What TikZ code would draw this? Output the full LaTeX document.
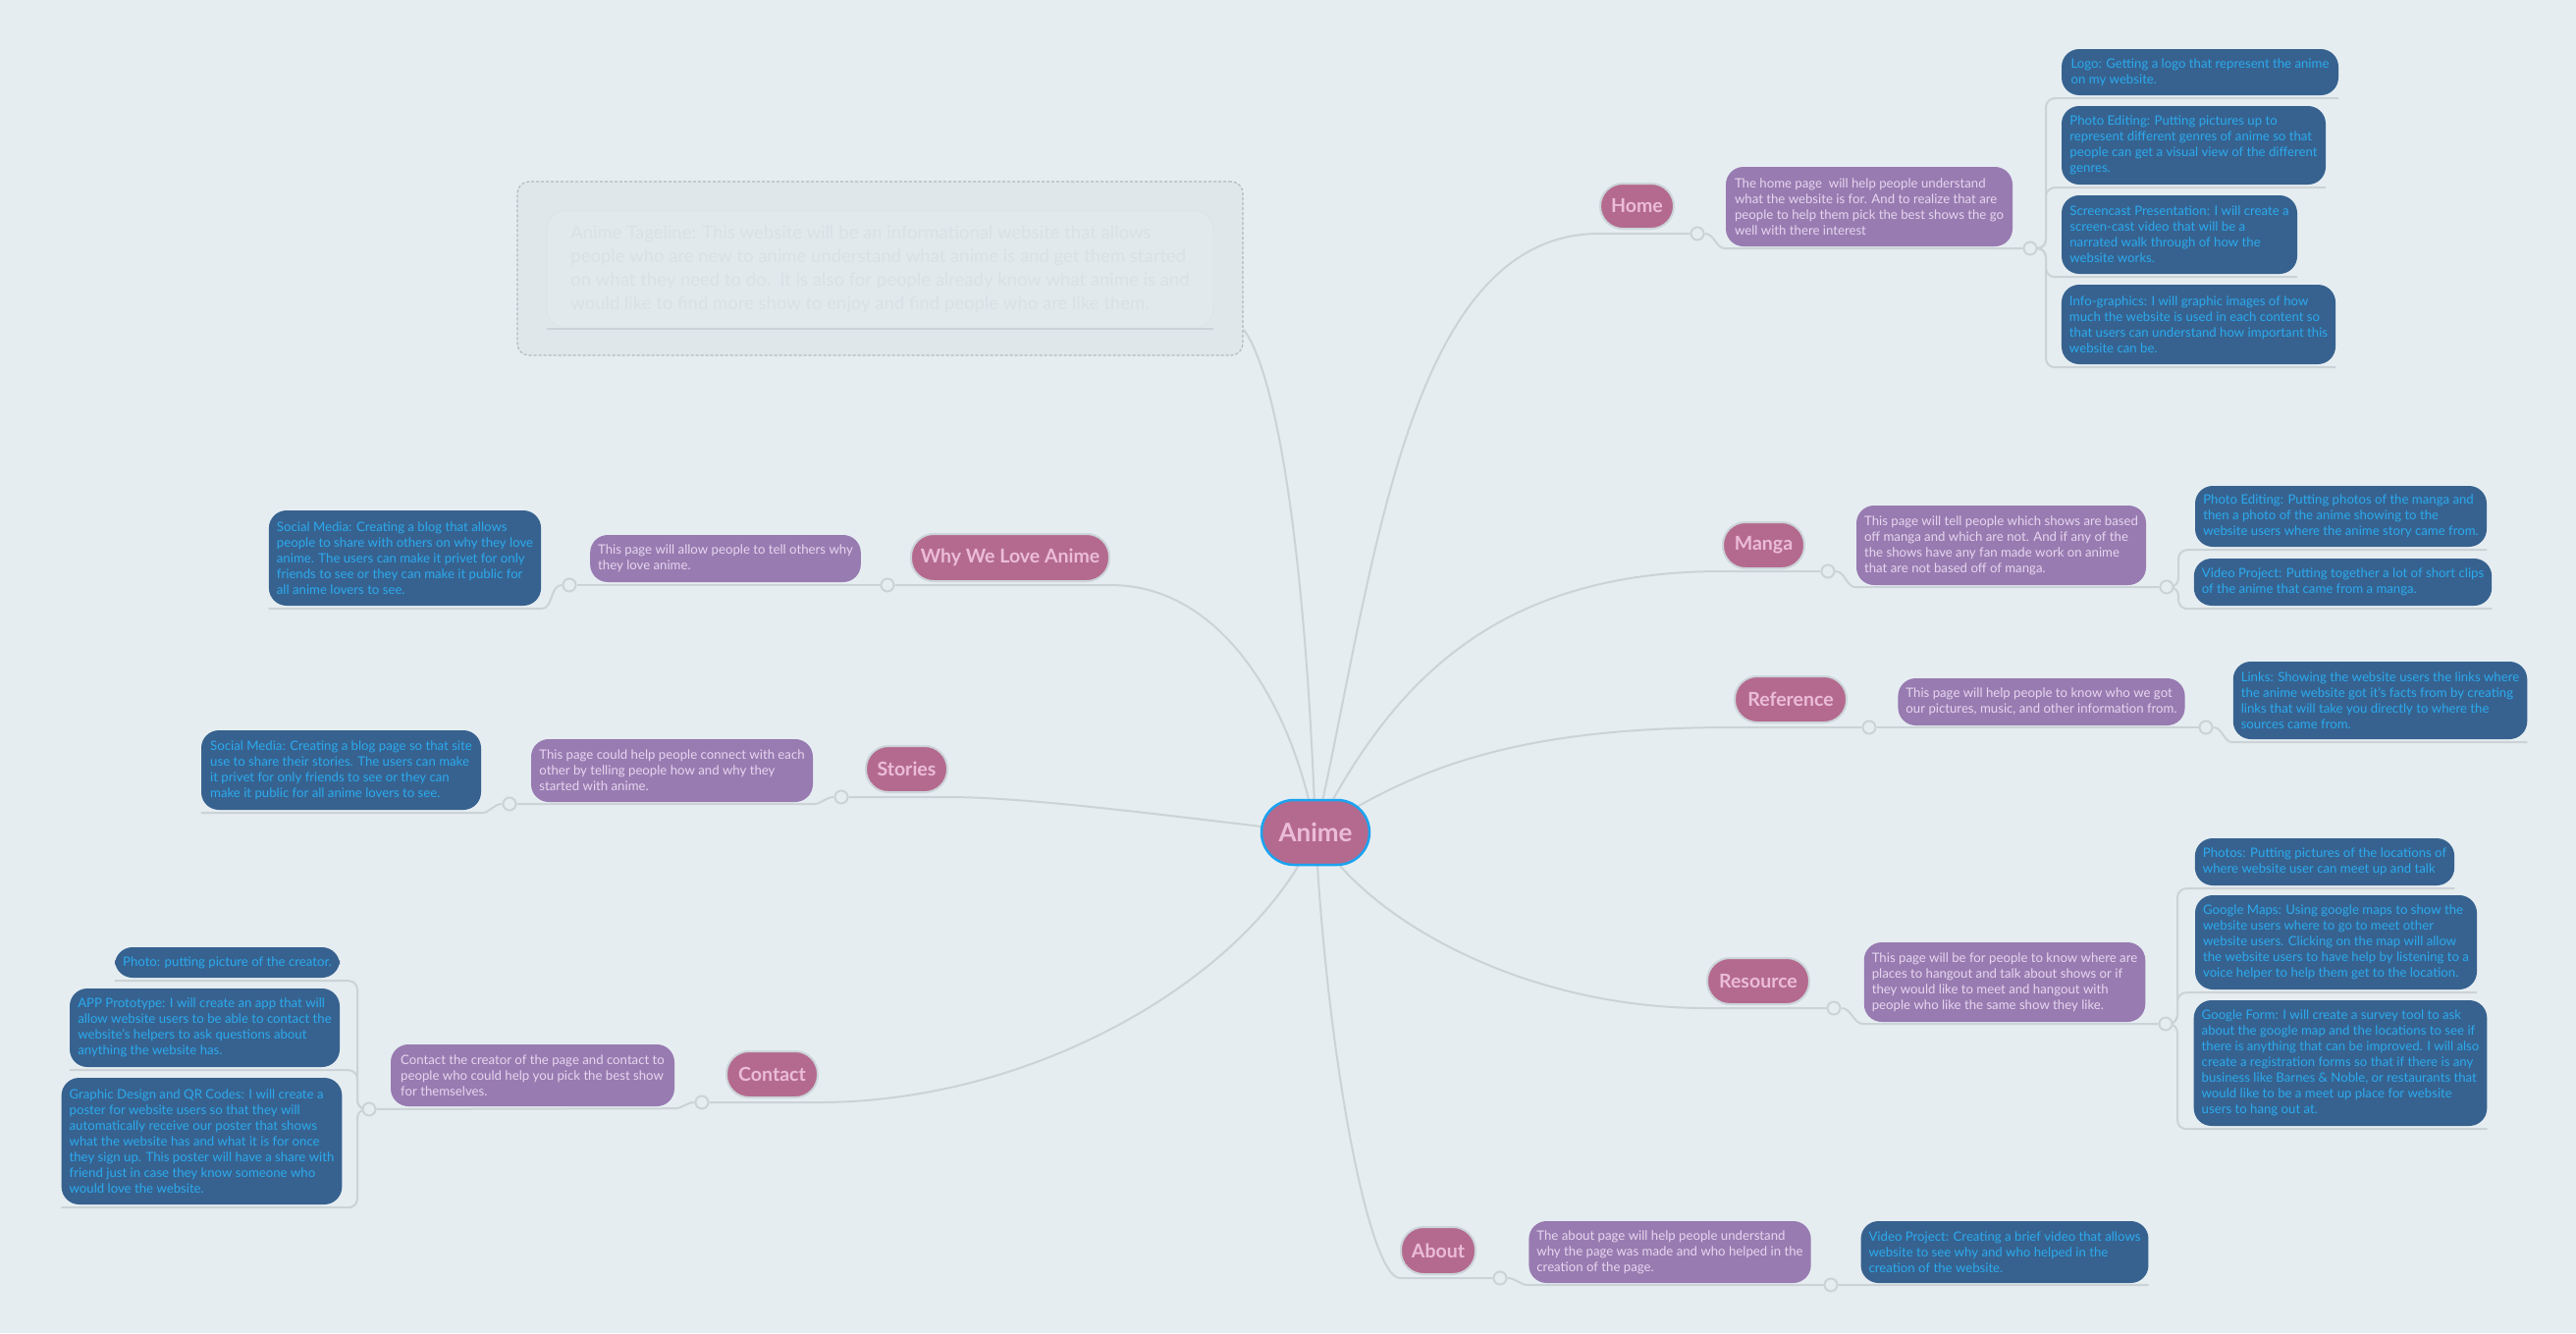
\documentclass[tikz,border=0pt]{standalone}
\usepackage{fontspec}
\setmainfont{Lato}
\usetikzlibrary{calc}
\definecolor{bgc}{HTML}{E5EDF1}
\definecolor{connc}{HTML}{CBD3D7}
\definecolor{topicfill}{HTML}{B46A8E}
\definecolor{topictext}{HTML}{EBBCD8}
\definecolor{topicedge}{HTML}{CCD5D9}
\definecolor{centeredge}{HTML}{1AA3F0}
\definecolor{descfill}{HTML}{987BB1}
\definecolor{desctext}{HTML}{E6D6EF}
\definecolor{leaffill}{HTML}{37628F}
\definecolor{leaftext}{HTML}{2BAAEE}
\definecolor{tagfill}{HTML}{E0E7EA}
\definecolor{tagbox}{HTML}{E2E9EC}
\definecolor{tagboxedge}{HTML}{D9E1E5}
\definecolor{tagtext}{HTML}{DAE1E5}
\definecolor{tagline}{HTML}{B3BABE}
\definecolor{tagshadow}{HTML}{CBD3D8}
\pgfdeclarelayer{back}
\pgfdeclarelayer{lines}
\pgfsetlayers{back,lines,main}
\tikzset{
  conn/.style={draw=connc, line width=2pt},
  centernode/.style={rounded corners=33pt, fill=topicfill, draw=centeredge, line width=2.5pt,
    text=topictext, font=\fontsize{26}{30}\selectfont\bfseries, inner sep=0pt},
  topic/.style={rounded corners=23pt, fill=topicfill, draw=topicedge, line width=2pt,
    text=topictext, font=\fontsize{19.5}{22}\selectfont\bfseries, inner sep=0pt},
  desc/.style={rounded corners=18pt, fill=descfill, text=desctext,
    font=\fontsize{13.2}{16}\selectfont, align=left, inner xsep=8pt, inner ysep=0pt},
  leaf/.style={rounded corners=18pt, fill=leaffill, text=leaftext,
    font=\fontsize{13.2}{16}\selectfont, align=left, inner xsep=8pt, inner ysep=0pt},
  dot/.style={circle, draw=connc, fill=bgc, line width=2pt, minimum size=13pt, inner sep=0pt},
  wh/.style 2 args={minimum width=#1pt, minimum height=#2pt},
}
\begin{document}
\begin{tikzpicture}[x=1pt,y=-1pt]
\useasboundingbox (0,0) rectangle (2624,1358);
\begin{pgfonlayer}{back}
\fill[bgc] (0,0) rectangle (2624,1358);
\end{pgfonlayer}

% tagline
\node[draw=tagline, dashed, dash pattern=on 3pt off 2pt, line width=1.2pt, fill=tagfill,
  rounded corners=12pt, wh={739}{177}] (tagframe) at (896.5,273.5) {};
\node[fill=tagbox, draw=tagboxedge, rounded corners=18pt, wh={679}{118},
  text=tagtext, font=\fontsize{18.5}{24}\selectfont, align=left, inner xsep=12pt, inner ysep=0pt]
  (tagbox) at (896.5,274) {Anime Tageline: This website will be an informational website that allows\\
people who are new to anime understand what anime is and get them started\\
on what they need to do.\ \ It is also for people already know what anime is and\\
would like to find more show to enjoy and find people who are like them.};
\draw[draw=tagshadow, line width=2pt] ([yshift=-2pt]tagbox.south west) -- ([yshift=-2pt]tagbox.south east);
\coordinate (tagend) at (1267,336);

% center
\node[centernode, wh={110}{66}] (anime) at (1340,848) {Anime};

% topics
\node[topic, wh={75}{46}] (home) at (1667.5,210) {Home};
\node[topic, wh={83}{47}] (manga) at (1796.5,555.5) {Manga};
\node[topic, wh={114}{47}] (reference) at (1824,712.5) {Reference};
\node[topic, wh={104}{47}] (resource) at (1791,999.5) {Resource};
\node[topic, wh={76}{48}] (about) at (1465,1274) {About};
\node[topic, wh={202}{48}] (why) at (1029,568) {Why We Love Anime};
\node[topic, wh={83}{47}] (stories) at (923.5,783.5) {Stories};
\node[topic, wh={93}{47}] (contact) at (786.5,1094.5) {Contact};

% topic collapse markers
\node[dot] (homec) at (1729,238) {};
\node[dot] (mangac) at (1862,582) {};
\node[dot] (refc) at (1904,741) {};
\node[dot] (resc) at (1868,1027) {};
\node[dot] (aboutc) at (1528,1302) {};
\node[dot] (whyc) at (904,596) {};
\node[dot] (storiesc) at (857,812) {};
\node[dot] (contactc) at (715,1123) {};

% descriptions
\node[desc, wh={292}{81}] (homed) at (1904,210.5) {The home page~ will help people understand\\
what the website is for. And to realize that are\\
people to help them pick the best shows the go\\
well with there interest};
\node[desc, wh={295}{81}] (mangad) at (2038.5,555.5) {This page will tell people which shows are based\\
off manga and which are not. And if any of the\\
the shows have any fan made work on anime\\
that are not based off of manga.};
\node[desc, wh={291}{48}] (refd) at (2079.5,715) {This page will help people to know who we got\\
our pictures, music, and other information from.};
\node[desc, wh={284}{81}] (resd) at (2042,1000.5) {This page will be for people to know where are\\
places to hangout and talk about shows or if\\
they would like to meet and hangout with\\
people who like the same show they like.};
\node[desc, wh={286}{63}] (aboutd) at (1701,1275.5) {The about page will help people understand\\
why the page was made and who helped in the\\
creation of the page.};
\node[desc, wh={272}{48}] (whyd) at (739,569) {This page will allow people to tell others why\\
they love anime.};
\node[desc, wh={287}{64}] (storiesd) at (684.5,785) {This page could help people connect with each\\
other by telling people how and why they\\
started with anime.};
\node[desc, wh={289}{63}] (contactd) at (542.5,1095.5) {Contact the creator of the page and contact to\\
people who could help you pick the best show\\
for themselves.};

% description collapse markers
\node[dot] (homedc) at (2068,253) {};
\node[dot] (mangadc) at (2207,598) {};
\node[dot] (refdc) at (2247,741) {};
\node[dot] (resdc) at (2206,1043) {};
\node[dot] (aboutdc) at (1865,1309) {};
\node[dot] (whydc) at (580,596) {};
\node[dot] (storiesdc) at (519,819) {};
\node[dot] (contactdc) at (376,1130) {};

% leaves
\node[leaf, wh={282}{47}] (logo) at (2241,73.5) {Logo: Getting a logo that represent the anime\\
on my website.};
\node[leaf, wh={269}{80}] (photoh) at (2234.5,148) {Photo Editing: Putting pictures up to\\
represent different genres of anime so that\\
people can get a visual view of the different\\
genres.};
\node[leaf, wh={240}{80}] (screen) at (2220,239) {Screencast Presentation: I will create a\\
screen-cast video that will be a\\
narrated walk through of how the\\
website works.};
\node[leaf, wh={279}{81}] (info) at (2239.5,330.5) {Info-graphics: I will graphic images of how\\
much the website is used in each content so\\
that users can understand how important this\\
website can be.};
\node[leaf, wh={297}{62}] (photom) at (2384.5,526) {Photo Editing: Putting photos of the manga and\\
then a photo of the anime showing to the\\
website users where the anime story came from.};
\node[leaf, wh={301}{48}] (videom) at (2386.5,593) {Video Project: Putting together a lot of short clips\\
of the anime that came from a manga.};
\node[leaf, wh={295}{79}] (links) at (2424.5,713.5) {Links: Showing the website users the links where\\
the anime website got it's facts from by creating\\
links that will take you directly to where the\\
sources came from.};
\node[leaf, wh={264}{48}] (photos) at (2368,878) {Photos: Putting pictures of the locations of\\
where website user can meet up and talk};
\node[leaf, wh={287}{96}] (gmaps) at (2379.5,960) {Google Maps: Using google maps to show the\\
website users where to go to meet other\\
website users. Clicking on the map will allow\\
the website users to have help by listening to a\\
voice helper to help them get to the location.};
\node[leaf, wh={296}{128}] (gform) at (2384,1083) {Google Form: I will create a survey tool to ask\\
about the google map and the locations to see if\\
there is anything that can be improved. I will also\\
create a registration forms so that if there is any\\
business like Barnes \& Noble, or restaurants that\\
would like to be a meet up place for website\\
users to hang out at.};
\node[leaf, wh={292}{63}] (videoa) at (2042,1275.5) {Video Project: Creating a brief video that allows\\
website to see why and who helped in the\\
creation of the website.};
\node[leaf, wh={277}{97}] (whyl) at (412.5,568.5) {Social Media: Creating a blog that allows\\
people to share with others on why they love\\
anime. The users can make it privet for only\\
friends to see or they can make it public for\\
all anime lovers to see.};
\node[leaf, wh={285}{81}] (storiesl) at (347.5,784.5) {Social Media: Creating a blog page so that site\\
use to share their stories. The users can make\\
it privet for only friends to see or they can\\
make it public for all anime lovers to see.};
\node[leaf, wh={229}{31}] (photoc) at (231.5,980.5) {Photo: putting picture of the creator.};
\node[leaf, wh={275}{80}] (appc) at (208.5,1047) {APP Prototype: I will create an app that will\\
allow website users to be able to contact the\\
website's helpers to ask questions about\\
anything the website has.};
\node[leaf, wh={281}{129}] (graphc) at (205.5,1162.5) {Graphic Design and QR Codes: I will create a\\
poster for website users so that they will\\
automatically receive our poster that shows\\
what the website has and what it is for once\\
they sign up. This poster will have a share with\\
friend just in case they know someone who\\
would love the website.};

\begin{pgfonlayer}{lines}
% main branches
\draw[conn] (anime.center) .. controls (1330,560) and (1300,380) .. (tagend);
\draw[conn] (anime.center) .. controls (1399,591) and (1430,238) .. (home.west |- homec) -- (homec);
\draw[conn] (anime.center) .. controls (1415,700) and (1520,582) .. (manga.west |- mangac) -- (mangac);
\draw[conn] (anime.center) .. controls (1450,775) and (1560,741) .. (reference.west |- refc) -- (refc);
\draw[conn] (anime.center) .. controls (1390,935) and (1550,1027) .. (resource.west |- resc) -- (resc);
\draw[conn] (anime.center) .. controls (1352,1080) and (1395,1302) .. (about.west |- aboutc) -- (aboutc);
\draw[conn] (anime.center) .. controls (1320,730) and (1250,596) .. (why.east |- whyc) -- (whyc);
\draw[conn] (anime.center) .. controls (1240,838) and (1060,812) .. (stories.east |- storiesc) -- (storiesc);
\draw[conn] (anime.center) .. controls (1280,990) and (1060,1123) .. (contact.east |- contactc) -- (contactc);
% topic to description
\draw[conn] (homec) to[out=0,in=180] ([yshift=-2pt]homed.south west) -- (homedc);
\draw[conn] (mangac) to[out=0,in=180] ([yshift=-2pt]mangad.south west) -- (mangadc);
\draw[conn] (refc) -- (refdc);
\draw[conn] (resc) to[out=0,in=180] ([yshift=-2pt]resd.south west) -- (resdc);
\draw[conn] (aboutc) to[out=0,in=180] ([yshift=-2pt]aboutd.south west) -- (aboutdc);
\draw[conn] (whyc) -- (whydc);
\draw[conn] (storiesc) to[out=180,in=0] ([yshift=-2pt]storiesd.south east) -- (storiesdc);
\draw[conn] (contactc) to[out=180,in=0] ([yshift=-2pt]contactd.south east) -- (contactdc);
% description to leaves
\foreach \l in {logo,photoh,screen,info}
  \draw[conn, rounded corners=9pt] (homedc) -- ++(16,0) |- ([yshift=-3pt]\l.south west) -- ([yshift=-3pt]\l.south east);
\foreach \l in {photom,videom}
  \draw[conn, rounded corners=9pt] (mangadc) -- ++(12,0) |- ([yshift=-3pt]\l.south west) -- ([yshift=-3pt]\l.south east);
\draw[conn] (refdc) to[out=0,in=180] ([yshift=-3pt]links.south west) -- ([yshift=-3pt]links.south east);
\foreach \l in {photos,gmaps,gform}
  \draw[conn, rounded corners=9pt] (resdc) -- ++(12,0) |- ([yshift=-3pt]\l.south west) -- ([yshift=-3pt]\l.south east);
\draw[conn] (aboutdc) -- ([yshift=-2pt]videoa.south west) -- ([yshift=-2pt]videoa.south east);
\draw[conn] (whydc) to[out=180,in=0] ([yshift=-3pt]whyl.south east) -- ([yshift=-3pt]whyl.south west);
\draw[conn] (storiesdc) to[out=180,in=0] ([yshift=-3pt]storiesl.south east) -- ([yshift=-3pt]storiesl.south west);
\foreach \l in {photoc,appc,graphc}
  \draw[conn, rounded corners=9pt] (contactdc) -- ++(-12,0) |- ([yshift=-3pt]\l.south east) -- ([yshift=-3pt]\l.south west);
\end{pgfonlayer}
\end{tikzpicture}
\end{document}
